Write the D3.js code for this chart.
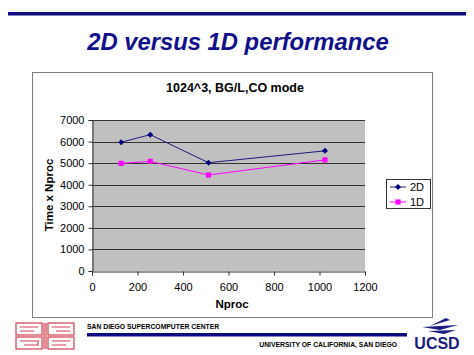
<!DOCTYPE html>
<html><head><meta charset="utf-8">
<script src="https://cdn.jsdelivr.net/npm/d3@7"></script>
<style>body{margin:0;background:#fff}svg{display:block}text{font-family:"Liberation Sans",Arial,sans-serif}</style>
</head><body><svg id="c" width="474" height="355"></svg>
<script>
const nproc = [128, 256, 512, 1024];
const series2D = [5970, 6320, 5020, 5570];
const series1D = [4990, 5080, 4450, 5150];
const xTicks = [0, 200, 400, 600, 800, 1000, 1200];
const yTicks = [0, 1000, 2000, 3000, 4000, 5000, 6000, 7000];

const svg = d3.select("#c");
// slide top rule
svg.append("rect").attr("x",8).attr("y",12).attr("width",458).attr("height",3.5).attr("fill","#0c0c80");
svg.append("text").attr("x",238).attr("y",50).attr("text-anchor","middle")
  .attr("font-size",23.8).attr("font-weight","bold").attr("font-style","italic").attr("fill","#10108a")
  .text("2D versus 1D performance");

// chart frame
svg.append("rect").attr("x",32.5).attr("y",72.5).attr("width",400).attr("height",245)
  .attr("fill","#fff").attr("stroke","#808080").attr("stroke-width",1);
svg.append("text").attr("x",235).attr("y",92).attr("text-anchor","middle")
  .attr("font-size",12.5).attr("font-weight","bold").text("1024^3, BG/L,CO mode");

const x = d3.scaleLinear().domain([0,1200]).range([92,365]);
const y = d3.scaleLinear().domain([0,7000]).range([271,120]);

svg.append("rect").attr("x",x(0)).attr("y",y(7000)).attr("width",x(1200)-x(0)).attr("height",y(0)-y(7000))
  .attr("fill","#c0c0c0");
svg.append("g").selectAll("line").data(yTicks.slice(1)).join("line")
  .attr("x1",x(0)).attr("x2",x(1200)).attr("y1",d=>Math.round(y(d))+0.5).attr("y2",d=>Math.round(y(d))+0.5)
  .attr("stroke","#333").attr("stroke-width",1);

const yAxis = svg.append("g").attr("transform",`translate(${x(0)+0.5},0)`)
  .call(d3.axisLeft(y).tickValues(yTicks).tickSize(4).tickPadding(4).tickFormat(d3.format("d")));
const xAxis = svg.append("g").attr("transform",`translate(0,${Math.round(y(0))+0.5})`)
  .call(d3.axisBottom(x).tickValues(xTicks).tickSize(4).tickPadding(8).tickFormat(d3.format("d")));
[yAxis,xAxis].forEach(a=>{
  a.select(".domain").attr("stroke","#333");
  a.selectAll(".tick line").attr("stroke","#333");
  a.selectAll("text").attr("font-size",11).attr("font-family","'Liberation Sans',Arial,sans-serif").attr("fill","#000");
});

svg.append("text").attr("x",232).attr("y",308).attr("text-anchor","middle")
  .attr("font-size",11.5).attr("font-weight","bold").text("Nproc");
svg.append("text").attr("transform","translate(53,195) rotate(-90)").attr("text-anchor","middle")
  .attr("font-size",11.5).attr("font-weight","bold").text("Time x Nproc");

const line = d3.line().x(d=>x(d[0])).y(d=>y(d[1]));
const d2 = nproc.map((n,i)=>[n,series2D[i]]);
const d1 = nproc.map((n,i)=>[n,series1D[i]]);
svg.append("path").attr("d",line(d2)).attr("fill","none").attr("stroke","#1a1a80").attr("stroke-width",1);
svg.append("path").attr("d",line(d1)).attr("fill","none").attr("stroke","#ff00ff").attr("stroke-width",1);
const diamond = "M0,-3L3,0L0,3L-3,0Z";
const square = "M-2.6,-2.6H2.6V2.6H-2.6Z";
svg.append("g").selectAll("path").data(d2).join("path")
  .attr("transform",d=>`translate(${x(d[0])},${y(d[1])})`).attr("d",diamond).attr("fill","#000080");
svg.append("g").selectAll("path").data(d1).join("path")
  .attr("transform",d=>`translate(${x(d[0])},${y(d[1])})`).attr("d",square).attr("fill","#ff00ff");

// legend
svg.append("rect").attr("x",386.5).attr("y",179.5).attr("width",44).attr("height",29)
  .attr("fill","#fff").attr("stroke","#333");
const leg = [["2D","#1a1a80","#000080",diamond,187],["1D","#ff00ff","#ff00ff",square,202]];
leg.forEach(([t,lc,mc,sym,yy])=>{
  svg.append("line").attr("x1",390).attr("x2",406).attr("y1",yy).attr("y2",yy).attr("stroke",lc);
  svg.append("path").attr("transform",`translate(398,${yy})`).attr("d",sym).attr("fill",mc);
  svg.append("text").attr("x",410).attr("y",yy+4).attr("font-size",11).text(t);
});

// footer
svg.append("rect").attr("x",87).attr("y",333).attr("width",320).attr("height",3.5).attr("fill","#0c0c80");
svg.append("text").attr("x",87).attr("y",329).attr("font-size",6.8).attr("font-weight","bold").text("SAN DIEGO SUPERCOMPUTER CENTER");
svg.append("text").attr("x",397).attr("y",347).attr("text-anchor","end").attr("font-size",6.8).attr("font-weight","bold").text("UNIVERSITY OF CALIFORNIA, SAN DIEGO");
// SDSC logo (simplified maze)
const lg = svg.append("g").attr("fill","none").attr("stroke","#d04050").attr("stroke-width",1.2);
lg.append("rect").attr("x",16).attr("y",323).attr("width",26).attr("height",12);
lg.append("rect").attr("x",16).attr("y",337).attr("width",26).attr("height",12);
lg.append("rect").attr("x",48).attr("y",323).attr("width",26).attr("height",12);
lg.append("rect").attr("x",48).attr("y",337).attr("width",26).attr("height",12);
lg.append("path").attr("d","M20 327H38M20 331H34M20 341H38V345H24M52 327H70M56 331H70M52 341H70M52 345H66");
lg.append("path").attr("d","M44 323V349M46 323V349");
// UCSD logo
svg.append("text").attr("x",437).attr("y",349).attr("text-anchor","middle").attr("font-size",16)
  .attr("font-weight","bold").attr("font-family","'Liberation Serif','Times New Roman',serif").attr("fill","#1a1a80").text("UCSD");
const ul = svg.append("g").attr("fill","#1a1a80");
ul.append("path").attr("d","M446 318 L450 320 L430 326 Z");
ul.append("path").attr("d","M422 327 L458 325 L440 330 Z");
ul.append("path").attr("d","M428 331 L456 330 L444 334 Z");
</script></body></html>
